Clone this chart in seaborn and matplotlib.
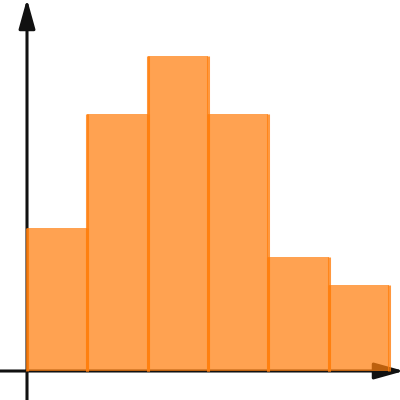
import matplotlib
matplotlib.use('Agg')
import matplotlib.pyplot as plt
import seaborn as sns
import pandas as pd

# bin labels and bar heights
bins = ['b1', 'b2', 'b3', 'b4', 'b5', 'b6']
heights = [2.5, 4.5, 5.5, 4.5, 2.0, 1.5]

df = pd.DataFrame({'bin': bins, 'height': heights})

sns.set_style('white')
fig = plt.figure(figsize=(4, 4), dpi=100)
ax = fig.add_axes([0, 0, 1, 1])

sns.barplot(data=df, x='bin', y='height', color='#ff7f0e', width=1.0,
            alpha=0.72, linewidth=0, saturation=1, ax=ax, zorder=3)

# vertical edges of each bar
for p in ax.patches:
    x0 = p.get_x()
    x1 = x0 + p.get_width()
    h = p.get_height()
    ax.vlines([x0, x1], 0, h, color='#ff7f0e', lw=2.2, alpha=0.8, zorder=4)

px_x = 362 / 6
px_y = 57.2
ax.set_xlim(-0.5 - 27 / px_x, 5.5 + 11 / px_x)
ax.set_ylim(-29 / px_y, 371 / px_y)

# arrow axes
arrow = dict(arrowstyle='-|>,head_length=1.8,head_width=0.5', mutation_scale=10,
             color='#111111', lw=2.2, shrinkA=0, shrinkB=0)
ax.annotate('', xy=(-0.5, 372 / px_y), xytext=(-0.5, -29 / px_y),
            arrowprops=arrow, zorder=2, annotation_clip=False)
ax.annotate('', xy=(-0.5 + 377 / px_x, 0), xytext=(-0.5 - 27 / px_x, 0),
            arrowprops=arrow, zorder=2, annotation_clip=False)

ax.set_axis_off()
fig.savefig('out.png', dpi=100)
